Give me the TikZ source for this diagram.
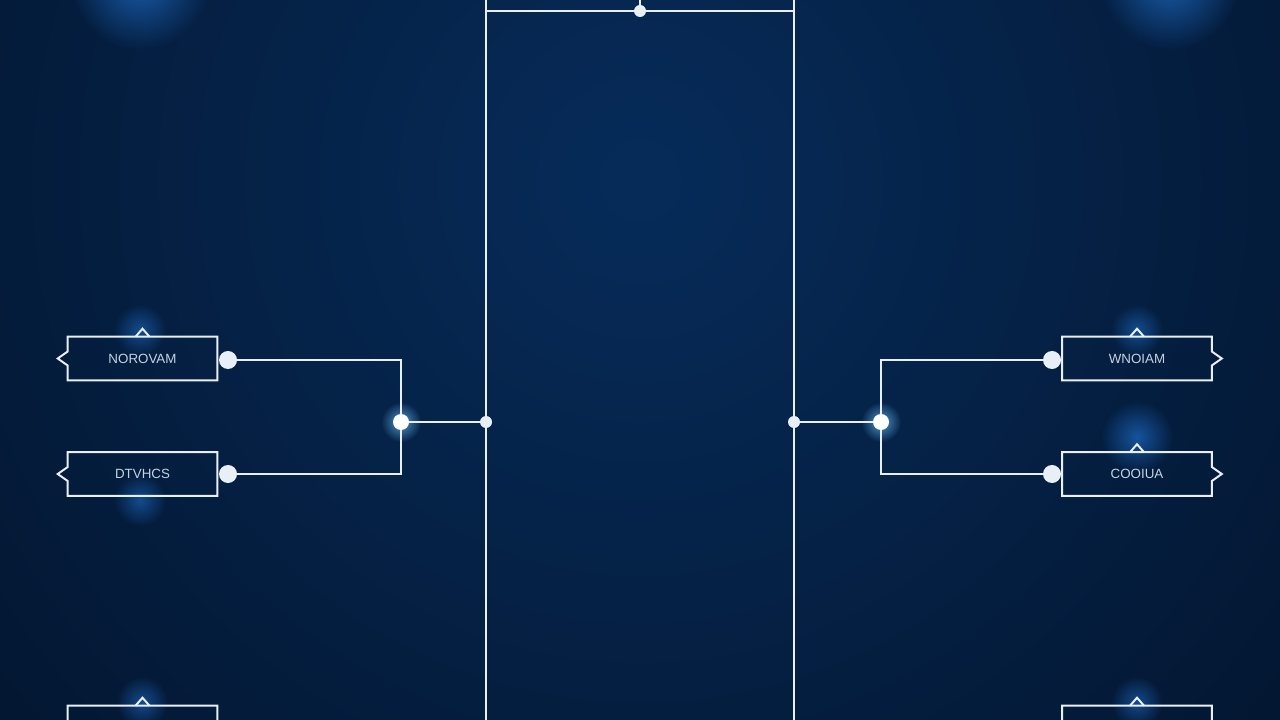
\documentclass[tikz,border=0pt]{standalone}
\usepackage{fontspec}
\setmainfont{Liberation Sans}
\usetikzlibrary{calc,fadings}

\definecolor{bgdark}{HTML}{03132A}
\definecolor{bgmid}{HTML}{072C5A}
\definecolor{glowblue}{HTML}{1E6BC4}
\definecolor{glowcyan}{HTML}{6FC8FF}
\definecolor{wirecol}{HTML}{E8EFF7}
\definecolor{labeltext}{HTML}{C5D2E3}

\tikzfading[name=glowfade, inner color=transparent!0, outer color=transparent!100]

\tikzset{
  wire/.style={draw=wirecol, line width=1.4pt},
  tagbox/.style={minimum width=3.725cm, minimum height=1.075cm, inner sep=0pt,
    text=labeltext, font=\fontsize{9.5}{10}\selectfont},
  enddot/.style={circle, fill=wirecol, inner sep=0pt, minimum size=0.45cm},
  joindot/.style={circle, fill=white, inner sep=0pt, minimum size=0.4cm},
  smalldot/.style={circle, fill=wirecol, inner sep=0pt, minimum size=0.3cm},
  glow/.style={fill=#1, path fading=glowfade}
}

\begin{document}
\begin{tikzpicture}[x=0.025cm, y=-0.025cm]
  \useasboundingbox (0,0) rectangle (1280,720);
  \clip (0,0) rectangle (1280,720);

  % background
  \fill[bgdark] (0,0) rectangle (1280,720);
  \fill[glow=bgmid] (640,180) ellipse (1000 and 1000);
  \fill[glow=glowblue, fill opacity=0.8] (140,-20) circle (70);
  \fill[glow=glowblue, fill opacity=0.8] (1170,-20) circle (70);
  \fill[glow=glowblue, fill opacity=0.6] (140,330) circle (26);
  \fill[glow=glowblue, fill opacity=0.6] (140,500) circle (26);
  \fill[glow=glowblue, fill opacity=0.6] (1137,330) circle (26);
  \fill[glow=glowblue, fill opacity=0.7] (1137,437) circle (36);
  \fill[glow=glowblue, fill opacity=0.6] (142,702) circle (26);
  \fill[glow=glowblue, fill opacity=0.6] (1137,702) circle (26);
  \fill[glow=glowcyan, fill opacity=0.7] (401,422) circle (20);
  \fill[glow=glowcyan, fill opacity=0.7] (881,422) circle (20);

  % boxes
  \node[tagbox] (nor) at (142.5,358.5) {NOROVAM};
  \node[tagbox] (dtv) at (142.5,474) {DTVHCS};
  \node[tagbox] (wno) at (1137,358.5) {WNOIAM};
  \node[tagbox] (coo) at (1137,474) {COOIUA};
  \node[tagbox] (botl) at (142.5,727.5) {};
  \node[tagbox] (botr) at (1137,727.5) {};

  \foreach \n in {nor,dtv,botl}
    \draw[wire] (\n.north west) -- (\n.north east) -- (\n.south east) -- (\n.south west)
      -- ($(\n.west)+(0,7)$) -- ($(\n.west)+(-10,0)$) -- ($(\n.west)+(0,-7)$) -- cycle;
  \foreach \n in {wno,coo,botr}
    \draw[wire] (\n.north east) -- (\n.north west) -- (\n.south west) -- (\n.south east)
      -- ($(\n.east)+(0,7)$) -- ($(\n.east)+(10,0)$) -- ($(\n.east)+(0,-7)$) -- cycle;
  \foreach \n in {nor,wno,coo,botl,botr}
    \draw[wire] ($(\n.north)+(-7,0)$) -- ($(\n.north)+(0,-8)$) -- ($(\n.north)+(7,0)$);

  % dots
  \node[enddot] (nordot) at (228,360) {};
  \node[enddot] (dtvdot) at (228,474) {};
  \node[enddot] (wnodot) at (1052,360) {};
  \node[enddot] (coodot) at (1052,474) {};
  \node[joindot] (jl) at (401,422) {};
  \node[joindot] (jr) at (881,422) {};
  \node[smalldot] (cl) at (486,422) {};
  \node[smalldot] (cr) at (794,422) {};
  \node[smalldot] (topdot) at (640,11) {};

  \coordinate (ltop) at (486,0);
  \coordinate (lbot) at (486,720);
  \coordinate (rtop) at (794,0);
  \coordinate (rbot) at (794,720);
  \coordinate (lbar) at (486,11);
  \coordinate (rbar) at (794,11);
  \coordinate (stem) at (640,0);

  % wires
  \draw[wire] (nordot) -| (jl);
  \draw[wire] (dtvdot) -| (jl);
  \draw[wire] (jl) -- (cl);
  \draw[wire] (wnodot) -| (jr);
  \draw[wire] (coodot) -| (jr);
  \draw[wire] (jr) -- (cr);
  \draw[wire] (ltop) -- (lbot);
  \draw[wire] (rtop) -- (rbot);
  \draw[wire] (lbar) -- (topdot) -- (rbar);
  \draw[wire] (topdot) -- (stem);
\end{tikzpicture}
\end{document}
